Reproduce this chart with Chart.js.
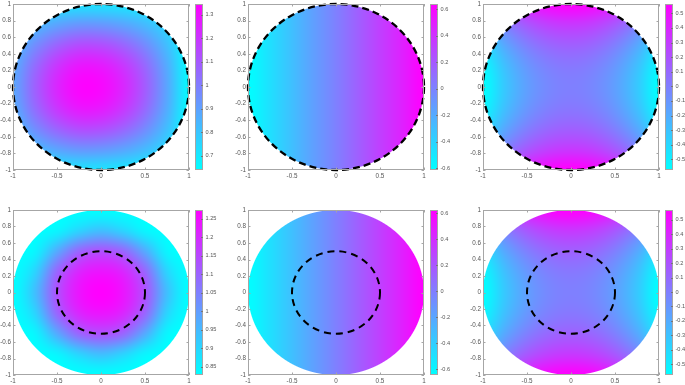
<!DOCTYPE html>
<html>
<head>
<meta charset="utf-8">
<script src="https://cdn.jsdelivr.net/npm/chart.js@4.4.1/dist/chart.umd.min.js"></script>
<style>
  html, body { margin: 0; padding: 0; background: #fff; width: 685px; height: 385px; overflow: hidden; }
  .box { position: absolute; }
</style>
</head>
<body>
<script>
const xTicks = [-1, -0.5, 0, 0.5, 1];
const yTicks = [-1, -0.8, -0.6, -0.4, -0.2, 0, 0.2, 0.4, 0.6, 0.8, 1];

// grid nodes on both axes; field rows go from y = 1 (top) down to y = -1
const gridNodes = [-1, -0.75, -0.5, -0.25, 0, 0.25, 0.5, 0.75, 1];

const fieldTopLeft = [
  [0.669, 0.691, 0.711, 0.722, 0.721, 0.711, 0.693, 0.669, 0.640],
  [0.743, 0.823, 0.891, 0.930, 0.926, 0.891, 0.829, 0.743, 0.645],
  [0.817, 0.954, 1.071, 1.137, 1.132, 1.071, 0.964, 0.817, 0.649],
  [0.869, 1.046, 1.197, 1.282, 1.276, 1.197, 1.059, 0.869, 0.652],
  [0.886, 1.077, 1.239, 1.331, 1.324, 1.239, 1.091, 0.886, 0.653],
  [0.869, 1.046, 1.197, 1.282, 1.276, 1.197, 1.059, 0.869, 0.652],
  [0.817, 0.954, 1.071, 1.137, 1.132, 1.071, 0.964, 0.817, 0.649],
  [0.743, 0.823, 0.891, 0.930, 0.926, 0.891, 0.829, 0.743, 0.645],
  [0.669, 0.691, 0.711, 0.722, 0.721, 0.711, 0.693, 0.669, 0.640]
];
const fieldTopMid = [
  [-0.61, -0.46, -0.30, -0.14, 0.01, 0.17, 0.33, 0.48, 0.64],
  [-0.61, -0.46, -0.30, -0.14, 0.01, 0.17, 0.33, 0.48, 0.64],
  [-0.61, -0.46, -0.30, -0.14, 0.01, 0.17, 0.33, 0.48, 0.64],
  [-0.61, -0.46, -0.30, -0.14, 0.01, 0.17, 0.33, 0.48, 0.64],
  [-0.61, -0.46, -0.30, -0.14, 0.01, 0.17, 0.33, 0.48, 0.64],
  [-0.61, -0.46, -0.30, -0.14, 0.01, 0.17, 0.33, 0.48, 0.64],
  [-0.61, -0.46, -0.30, -0.14, 0.01, 0.17, 0.33, 0.48, 0.64],
  [-0.61, -0.46, -0.30, -0.14, 0.01, 0.17, 0.33, 0.48, 0.64],
  [-0.61, -0.46, -0.30, -0.14, 0.01, 0.17, 0.33, 0.48, 0.64]
];
const fieldTopRight = [
  [-0.005, 0.244, 0.422, 0.528, 0.564, 0.528, 0.422, 0.244, -0.005],
  [-0.254, -0.005, 0.173, 0.280, 0.315, 0.280, 0.173, -0.005, -0.254],
  [-0.431, -0.183, -0.005, 0.102, 0.137, 0.102, -0.005, -0.183, -0.431],
  [-0.538, -0.290, -0.111, -0.005, 0.031, -0.005, -0.111, -0.290, -0.538],
  [-0.574, -0.325, -0.147, -0.041, -0.005, -0.041, -0.147, -0.325, -0.574],
  [-0.538, -0.290, -0.111, -0.005, 0.031, -0.005, -0.111, -0.290, -0.538],
  [-0.431, -0.183, -0.005, 0.102, 0.137, 0.102, -0.005, -0.183, -0.431],
  [-0.254, -0.005, 0.173, 0.280, 0.315, 0.280, 0.173, -0.005, -0.254],
  [-0.005, 0.244, 0.422, 0.528, 0.564, 0.528, 0.422, 0.244, -0.005]
];
const fieldBotLeft = [
  [0.827, 0.827, 0.827, 0.827, 0.827, 0.827, 0.827, 0.827, 0.827],
  [0.827, 0.827, 0.845, 0.903, 0.939, 0.903, 0.845, 0.827, 0.827],
  [0.827, 0.845, 0.975, 1.095, 1.131, 1.095, 0.975, 0.845, 0.827],
  [0.827, 0.903, 1.095, 1.207, 1.238, 1.207, 1.095, 0.903, 0.827],
  [0.827, 0.939, 1.131, 1.238, 1.274, 1.238, 1.131, 0.939, 0.827],
  [0.827, 0.903, 1.095, 1.207, 1.238, 1.207, 1.095, 0.903, 0.827],
  [0.827, 0.845, 0.975, 1.095, 1.131, 1.095, 0.975, 0.845, 0.827],
  [0.827, 0.827, 0.845, 0.903, 0.939, 0.903, 0.845, 0.827, 0.827],
  [0.827, 0.827, 0.827, 0.827, 0.827, 0.827, 0.827, 0.827, 0.827]
];
const fieldBotMid = [
  [-0.64, -0.49, -0.33, -0.17, -0.01, 0.15, 0.31, 0.47, 0.63],
  [-0.64, -0.49, -0.33, -0.17, -0.01, 0.15, 0.31, 0.47, 0.63],
  [-0.64, -0.49, -0.33, -0.17, -0.01, 0.15, 0.31, 0.47, 0.63],
  [-0.64, -0.49, -0.33, -0.17, -0.01, 0.15, 0.31, 0.47, 0.63],
  [-0.64, -0.49, -0.33, -0.17, -0.01, 0.15, 0.31, 0.47, 0.63],
  [-0.64, -0.49, -0.33, -0.17, -0.01, 0.15, 0.31, 0.47, 0.63],
  [-0.64, -0.49, -0.33, -0.17, -0.01, 0.15, 0.31, 0.47, 0.63],
  [-0.64, -0.49, -0.33, -0.17, -0.01, 0.15, 0.31, 0.47, 0.63],
  [-0.64, -0.49, -0.33, -0.17, -0.01, 0.15, 0.31, 0.47, 0.63]
];
const fieldBotRight = [
  [-0.004, 0.247, 0.426, 0.533, 0.569, 0.533, 0.426, 0.247, -0.004],
  [-0.254, -0.004, 0.176, 0.283, 0.319, 0.283, 0.176, -0.004, -0.254],
  [-0.433, -0.183, -0.004, 0.104, 0.140, 0.104, -0.004, -0.183, -0.433],
  [-0.540, -0.290, -0.111, -0.004, 0.032, -0.004, -0.111, -0.290, -0.540],
  [-0.576, -0.326, -0.147, -0.039, -0.004, -0.039, -0.147, -0.326, -0.576],
  [-0.540, -0.290, -0.111, -0.004, 0.032, -0.004, -0.111, -0.290, -0.540],
  [-0.433, -0.183, -0.004, 0.104, 0.140, 0.104, -0.004, -0.183, -0.433],
  [-0.254, -0.004, 0.176, 0.283, 0.319, 0.283, 0.176, -0.004, -0.254],
  [-0.004, 0.247, 0.426, 0.533, 0.569, 0.533, 0.426, 0.247, -0.004]
];

// colour limits [min, max] and colorbar tick labels
const climTopLeft = [0.639, 1.345];
const climTopMid = [-0.613, 0.64];
const climTopRight = [-0.573, 0.564];
const climBotLeft = [0.827, 1.274];
const climBotMid = [-0.644, 0.626];
const climBotRight = [-0.576, 0.569];

const cbTicksTopLeft = [0.7, 0.8, 0.9, 1, 1.1, 1.2, 1.3];
const cbTicksTopMid = [-0.6, -0.4, -0.2, 0, 0.2, 0.4, 0.6];
const cbTicksTopRight = [-0.5, -0.4, -0.3, -0.2, -0.1, 0, 0.1, 0.2, 0.3, 0.4, 0.5];
const cbTicksBotLeft = [0.85, 0.9, 0.95, 1, 1.05, 1.1, 1.15, 1.2, 1.25];
const cbTicksBotMid = [-0.6, -0.4, -0.2, 0, 0.2, 0.4, 0.6];
const cbTicksBotRight = [-0.5, -0.4, -0.3, -0.2, -0.1, 0, 0.1, 0.2, 0.3, 0.4, 0.5];

// radius of the dashed circle in each panel
const ringRadii = [1, 1, 1, 0.5, 0.5, 0.5];

const panels = [
  { field: fieldTopLeft, clim: climTopLeft, cbTicks: cbTicksTopLeft, ring: ringRadii[0], col: 0, row: 0 },
  { field: fieldTopMid, clim: climTopMid, cbTicks: cbTicksTopMid, ring: ringRadii[1], col: 1, row: 0 },
  { field: fieldTopRight, clim: climTopRight, cbTicks: cbTicksTopRight, ring: ringRadii[2], col: 2, row: 0 },
  { field: fieldBotLeft, clim: climBotLeft, cbTicks: cbTicksBotLeft, ring: ringRadii[3], col: 0, row: 1 },
  { field: fieldBotMid, clim: climBotMid, cbTicks: cbTicksBotMid, ring: ringRadii[4], col: 1, row: 1 },
  { field: fieldBotRight, clim: climBotRight, cbTicks: cbTicksBotRight, ring: ringRadii[5], col: 2, row: 1 }
];

// page layout (pixels)
const colLeft = [13, 248, 483];
const rowTop = [4, 210];
const rowHeight = [166, 165];
const plotW = 176;
const cbGap = 6, cbW = 8;

const tickFont = { family: 'Liberation Sans', size: 6.3 };
const cbFont = { family: 'Liberation Sans', size: 5.6 };
const tickColor = '#555';
const boxColor = '#a6a6a6';
const fmt = v => String(+Number(v).toFixed(2));

function catmull(p0, p1, p2, p3, t) {
  return 0.5 * (2 * p1 + (p2 - p0) * t + (2 * p0 - 5 * p1 + 4 * p2 - p3) * t * t + (3 * p1 - p0 - 3 * p2 + p3) * t * t * t);
}

function sampleField(field, x, y) {
  const n = gridNodes.length, step = gridNodes[1] - gridNodes[0];
  const fx = (x - gridNodes[0]) / step, fy = (gridNodes[n - 1] - y) / step;
  const i = Math.min(Math.max(Math.floor(fx), 0), n - 2);
  const j = Math.min(Math.max(Math.floor(fy), 0), n - 2);
  const tx = fx - i, ty = fy - j;
  const cl = k => Math.min(Math.max(k, 0), n - 1);
  const rows = [];
  for (let r = -1; r <= 2; r++) {
    const row = field[cl(j + r)];
    rows.push(catmull(row[cl(i - 1)], row[cl(i)], row[cl(i + 1)], row[cl(i + 2)], tx));
  }
  return catmull(rows[0], rows[1], rows[2], rows[3], ty);
}

function makeBox(left, top, w, h) {
  const div = document.createElement('div');
  div.className = 'box';
  div.style.left = left + 'px';
  div.style.top = top + 'px';
  const cv = document.createElement('canvas');
  cv.width = w; cv.height = h;
  div.appendChild(cv);
  document.body.appendChild(div);
  return cv;
}

function panelPlugin(p) {
  return {
    id: 'panel',
    beforeDatasetsDraw(chart) {
      const { ctx, chartArea: a, scales: { x, y } } = chart;
      const w = Math.round(a.right - a.left), h = Math.round(a.bottom - a.top);
      const off = document.createElement('canvas');
      off.width = w; off.height = h;
      const octx = off.getContext('2d');
      const img = octx.createImageData(w, h);
      const rPx = (w + h) / 4;
      for (let py = 0; py < h; py++) {
        const vy = y.getValueForPixel(a.top + py + 0.5);
        for (let px = 0; px < w; px++) {
          const vx = x.getValueForPixel(a.left + px + 0.5);
          const r = Math.hypot(vx, vy);
          const alpha = Math.min(1, Math.max(0, (1 - r) * rPx + 0.5));
          if (alpha <= 0) continue;
          const v = sampleField(p.field, vx, vy);
          const t = Math.min(1, Math.max(0, (v - p.clim[0]) / (p.clim[1] - p.clim[0])));
          const k = (py * w + px) * 4;
          img.data[k] = Math.round(255 * t);
          img.data[k + 1] = Math.round(255 * (1 - t));
          img.data[k + 2] = 255;
          img.data[k + 3] = Math.round(255 * alpha);
        }
      }
      octx.putImageData(img, 0, 0);
      ctx.drawImage(off, a.left, a.top);
    },
    afterDatasetsDraw(chart) {
      const { ctx, scales: { x, y } } = chart;
      const cx = x.getPixelForValue(0), cy = y.getPixelForValue(0);
      const rx = x.getPixelForValue(p.ring) - cx, ry = cy - y.getPixelForValue(p.ring);
      ctx.save();
      ctx.beginPath();
      ctx.ellipse(cx, cy, rx, ry, 0, 0, Math.PI * 2);
      ctx.strokeStyle = '#000';
      ctx.lineWidth = p.ring === 1 ? 2.3 : 2;
      ctx.setLineDash(p.ring === 1 ? [7, 4] : [7, 5]);
      ctx.stroke();
      ctx.restore();
    },
    afterDraw(chart) {
      const { ctx, chartArea: a, scales: { x, y } } = chart;
      ctx.save();
      ctx.strokeStyle = boxColor;
      ctx.lineWidth = 1;
      ctx.strokeRect(a.left + 0.5, a.top + 0.5, a.right - a.left - 1, a.bottom - a.top - 1);
      ctx.beginPath();
      xTicks.forEach(v => {
        const px = Math.round(x.getPixelForValue(v)) + 0.5;
        ctx.moveTo(px, a.bottom); ctx.lineTo(px, a.bottom - 2.5);
        ctx.moveTo(px, a.top); ctx.lineTo(px, a.top + 2.5);
      });
      yTicks.forEach(v => {
        const py = Math.round(y.getPixelForValue(v)) + 0.5;
        ctx.moveTo(a.left, py); ctx.lineTo(a.left + 2.5, py);
        ctx.moveTo(a.right, py); ctx.lineTo(a.right - 2.5, py);
      });
      ctx.stroke();
      ctx.restore();
    }
  };
}

function colorbarPlugin(p) {
  return {
    id: 'colorbar',
    beforeDatasetsDraw(chart) {
      const { ctx, chartArea: a, scales: { y } } = chart;
      const g = ctx.createLinearGradient(0, y.getPixelForValue(p.clim[0]), 0, y.getPixelForValue(p.clim[1]));
      g.addColorStop(0, 'rgb(0,255,255)');
      g.addColorStop(1, 'rgb(255,0,255)');
      ctx.save();
      ctx.fillStyle = g;
      ctx.fillRect(a.left, a.top, a.right - a.left, a.bottom - a.top);
      ctx.restore();
    },
    afterDraw(chart) {
      const { ctx, chartArea: a, scales: { y } } = chart;
      ctx.save();
      ctx.strokeStyle = boxColor;
      ctx.lineWidth = 1;
      ctx.strokeRect(a.left + 0.5, a.top + 0.5, a.right - a.left - 1, a.bottom - a.top - 1);
      ctx.strokeStyle = '#777';
      ctx.beginPath();
      p.cbTicks.forEach(v => {
        const py = Math.round(y.getPixelForValue(v)) + 0.5;
        ctx.moveTo(a.right, py); ctx.lineTo(a.right - 2, py);
      });
      ctx.stroke();
      ctx.restore();
    }
  };
}

const padTop = 6, padRight = 6, yAxisW = 22, xAxisH = 16, cbAxisW = 26;

panels.forEach(p => {
  const L = colLeft[p.col], T = rowTop[p.row], H = rowHeight[p.row];

  const cv = makeBox(L - yAxisW, T - padTop, yAxisW + plotW + padRight, padTop + H + xAxisH);
  new Chart(cv, {
    type: 'scatter',
    data: { datasets: [] },
    plugins: [panelPlugin(p)],
    options: {
      responsive: false,
      animation: false,
      layout: { padding: { left: 0, top: padTop, right: padRight, bottom: 0 } },
      plugins: { legend: { display: false }, tooltip: { enabled: false } },
      scales: {
        x: {
          type: 'linear', min: -1, max: 1,
          grid: { display: false, drawTicks: false },
          border: { display: false },
          ticks: { font: tickFont, color: tickColor, padding: 2, maxRotation: 0, autoSkip: false, callback: fmt },
          afterBuildTicks: s => { s.ticks = xTicks.map(v => ({ value: v })); },
          afterFit: s => { s.height = xAxisH; }
        },
        y: {
          type: 'linear', min: -1, max: 1,
          grid: { display: false, drawTicks: false },
          border: { display: false },
          ticks: { font: tickFont, color: tickColor, padding: 2, autoSkip: false, callback: fmt },
          afterBuildTicks: s => { s.ticks = yTicks.map(v => ({ value: v })); },
          afterFit: s => { s.width = yAxisW; }
        }
      }
    }
  });

  const cb = makeBox(L + plotW + cbGap, T - padTop, cbW + cbAxisW, H + 2 * padTop);
  new Chart(cb, {
    type: 'scatter',
    data: { datasets: [] },
    plugins: [colorbarPlugin(p)],
    options: {
      responsive: false,
      animation: false,
      layout: { padding: { left: 0, top: padTop, right: 0, bottom: padTop } },
      plugins: { legend: { display: false }, tooltip: { enabled: false } },
      scales: {
        x: { type: 'linear', display: false },
        y: {
          type: 'linear', position: 'right', min: p.clim[0], max: p.clim[1],
          grid: { display: false, drawTicks: false },
          border: { display: false },
          ticks: { font: cbFont, color: tickColor, padding: 2.5, autoSkip: false, callback: fmt },
          afterBuildTicks: s => { s.ticks = p.cbTicks.map(v => ({ value: v })); },
          afterFit: s => { s.width = cbAxisW; }
        }
      }
    }
  });
});
</script>
</body>
</html>
